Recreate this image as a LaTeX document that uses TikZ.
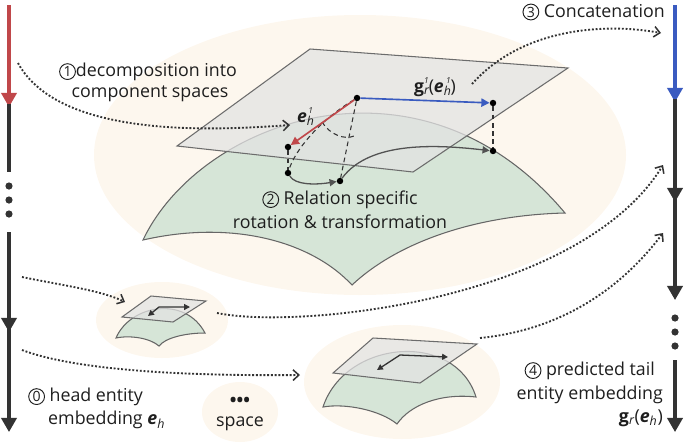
\documentclass[tikz,border=0pt]{standalone}
\usepackage{fontspec}
\setmainfont{Open Sans}
\usetikzlibrary{arrows.meta}
\definecolor{cream}{HTML}{FDF7EE}
\definecolor{grn}{HTML}{D6E5D7}
\definecolor{pln}{HTML}{E3E3E3}
\definecolor{redc}{HTML}{C0474A}
\definecolor{bluec}{HTML}{3A5BC0}
\definecolor{dk}{HTML}{333333}
\definecolor{txc}{HTML}{1E1E1E}
\newcommand{\ev}{{\bfseries\itshape e}}
\newcommand{\cnum}[1]{\tikz[baseline=(c.base)]\node[circle,draw,line width=0.8pt,inner sep=0.6pt,minimum size=13.5pt,font=\fontsize{12}{12}\selectfont](c){#1};}
\tikzset{
  txt/.style={font=\fontsize{15.2}{16}\selectfont, text=txc, align=center, inner sep=0pt},
  dotc/.style={dk, line width=1.6pt, dash pattern=on 1.6pt off 1.6pt, -{Straight Barb[length=5pt,width=9pt,line width=1.3pt]}},
  col/.style={line width=2.6pt},
  tipc/.style={-{Triangle[length=12pt,width=13pt]}},
  plane/.style={fill=pln, fill opacity=0.75, draw=gray!85!black, line width=0.9pt},
  surf/.style={fill=grn, draw=gray!80!black, line width=0.9pt},
  dot/.style={circle, fill=black, inner sep=0pt, minimum size=5.5pt},
  dsh/.style={dk, line width=0.9pt, dash pattern=on 4pt off 3pt},
  sarrow/.style={dk!85, line width=1.1pt, -{Triangle[length=6pt,width=6pt]}},
}
\begin{document}
\begin{tikzpicture}[x=0.03cm,y=-0.03cm]
\useasboundingbox (0,0) rectangle (685,444);
% bubbles
\fill[cream] (360,155) ellipse [x radius=266, y radius=140];
\fill[cream] (162,320) ellipse [x radius=66, y radius=38];
\fill[cream] (402,382) ellipse [x radius=98, y radius=57];
\fill[cream] (240,412) ellipse [x radius=38, y radius=30];
% big surface
\draw[surf] (143,240) .. controls (200,120) and (420,40) .. (565,213) .. controls (480,215) and (400,240) .. (352,285) .. controls (310,240) and (230,220) .. (143,240) -- cycle;
% big plane
\draw[plane] (310,49) coordinate (p1) -- (568,68) coordinate (p2) -- (413,172) coordinate (p3) -- (177,146) coordinate (p4) -- cycle;
% points
\node[dot] (A) at (357,98) {};
\node[dot] (B) at (288,147) {};
\node[dot] (C) at (493,103) {};
\node[dot] (D) at (493,151) {};
\node[dot] (E) at (288,173) {};
\node[dot] (F) at (340,181) {};
\draw[dsh] (B) -- (E);
\draw[dsh] (C) -- (D);
\draw[dsh] (A) -- (F);
\draw[dsh] (A) .. controls (320,120) and (295,150) .. (E);
\draw[dsh] (322,122) .. controls (330,135) and (345,140) .. (354,136);
\draw[redc, line width=1.4pt, -{Triangle[length=7pt,width=7pt]}] (A) -- (B);
\draw[bluec, line width=1.4pt, -{Triangle[length=7pt,width=7pt]}] (A) -- (C);
\draw[sarrow] (E) .. controls (295,185) and (315,185) .. (F);
\draw[sarrow] (F) .. controls (370,140) and (440,145) .. (D);
\node[txt, font=\fontsize{15}{16}\selectfont] at (305,117) {\ev\textsubscript{\itshape h}\kern-0.35em\raisebox{0.9ex}{\scriptsize\itshape 1}};
\node[txt, font=\fontsize{15}{16}\selectfont] at (435,87) {\textbf{g}\textsubscript{\itshape r}\kern-0.3em\raisebox{0.9ex}{\scriptsize\itshape 1}(\ev\textsubscript{\itshape h}\kern-0.3em\raisebox{0.9ex}{\scriptsize\itshape 1})};
% small 1
\draw[surf] (116,338) .. controls (130,305) and (185,295) .. (205,333) .. controls (185,333) and (165,338) .. (159,346) .. controls (150,338) and (130,335) .. (116,338) -- cycle;
\draw[plane] (122,317) -- (151,296) -- (206,301) -- (173,322) -- cycle;
\coordinate (s1) at (159,307);
\draw[dk, line width=1.1pt, {Triangle[length=5pt,width=5pt]}-{Triangle[length=5pt,width=5pt]}] (148,316) -- (s1) -- (190,307);
% small 2
\draw[surf] (323,407) .. controls (345,340) and (455,330) .. (476,397) .. controls (440,393) and (410,405) .. (397,424) .. controls (380,410) and (345,403) .. (323,407) -- cycle;
\draw[plane] (333,373) -- (373,338) -- (477,344) -- (420,383) -- cycle;
\coordinate (s2) at (400,355);
\draw[dk, line width=1.1pt, {Triangle[length=5pt,width=5pt]}-{Triangle[length=5pt,width=5pt]}] (377,370) -- (s2) -- (448,357);
% left column
\draw[redc, col, tipc] (9,5) -- (9,107);
\draw[dk, col] (9,104) -- (9,172);
\foreach \y in {186,200,214} \fill[dk] (9,\y) circle (3.6);
\draw[dk, col, tipc] (9,232) -- (9,332);
\draw[dk, col, tipc] (9,329) -- (9,432);
% right column
\draw[bluec, col, tipc] (675,5) -- (675,102);
\draw[dk, col, tipc] (675,99) -- (675,202);
\draw[dk, col, tipc] (675,199) -- (675,300);
\foreach \y in {318,332,346} \fill[dk] (675,\y) circle (3.6);
\draw[dk, col, tipc] (675,360) -- (675,432);
% dotted connectors
\coordinate (d1a) at (18,63); \coordinate (d1b) at (290,125);
\draw[dotc] (d1a) .. controls (60,140) and (220,130) .. (d1b);
\coordinate (d2a) at (472,84); \coordinate (d2b) at (661,33);
\draw[dotc] (d2a) .. controls (520,30) and (600,22) .. (d2b);
\coordinate (d3a) at (22,277); \coordinate (d3b) at (125,302);
\draw[dotc] (d3a) .. controls (60,285) and (100,290) .. (d3b);
\coordinate (d4a) at (217,313); \coordinate (d4b) at (663,165);
\draw[dotc] (d4a) .. controls (300,330) and (580,300) .. (d4b);
\coordinate (d5a) at (22,350); \coordinate (d5b) at (300,375);
\draw[dotc] (d5a) .. controls (80,372) and (200,376) .. (d5b);
\coordinate (d6a) at (480,338); \coordinate (d6b) at (663,233);
\draw[dotc] (d6a) .. controls (560,330) and (620,290) .. (d6b);
% texts
\node[txt] at (148,72) {\cnum{1}decomposition into};
\node[txt] at (150,94) {component spaces};
\node[txt] at (340,200) {\cnum{2} Relation specific};
\node[txt] at (340,222) {rotation \& transformation};
\node[txt, anchor=east] at (665,12) {\cnum{3} Concatenation};
\node[txt, anchor=west] at (28,397) {\cnum{0} head entity};
\node[txt, anchor=west] at (48,420) {embedding \ev\textsubscript{\itshape h}};
\node[txt] at (240,402) {\textbf{•••}};
\node[txt] at (240,424) {space};
\node[txt, anchor=east] at (655,371) {\cnum{4} predicted tail};
\node[txt, anchor=east] at (663,395) {entity embedding};
\node[txt, anchor=east] at (663,418) {\textbf{g}\textsubscript{\itshape r}(\ev\textsubscript{\itshape h})};
\end{tikzpicture}
\end{document}
